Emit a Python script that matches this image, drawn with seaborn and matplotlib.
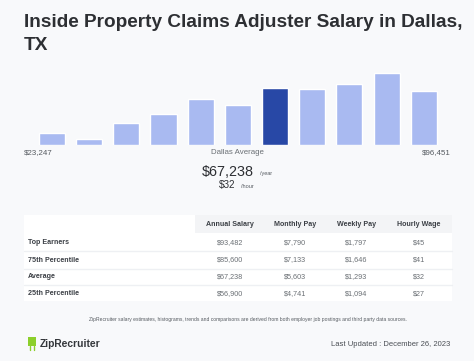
import matplotlib
matplotlib.use("Agg")
import matplotlib.pyplot as plt
import seaborn as sns
import pandas as pd
from matplotlib.patches import Rectangle

# histogram bars (relative heights)
bins = list(range(11))
heights = [12, 6.3, 22, 31, 45.7, 40, 57, 55.7, 61.3, 71.7, 54.3]
avg_bin = 6

title_lines = ["Inside Property Claims Adjuster Salary in Dallas,", "TX"]
low_label = "$23,247"
high_label = "$96,451"
avg_year = "$67,238"
avg_hour = "$32"

columns = ["Annual Salary", "Monthly Pay", "Weekly Pay", "Hourly Wage"]
rows = ["Top Earners", "75th Percentile", "Average", "25th Percentile"]
table_vals = [
    ["$93,482", "$7,790", "$1,797", "$45"],
    ["$85,600", "$7,133", "$1,646", "$41"],
    ["$67,238", "$5,603", "$1,293", "$32"],
    ["$56,900", "$4,741", "$1,094", "$27"],
]
note = ("ZipRecruiter salary estimates, histograms, trends and comparisons are derived "
        "from both employer job postings and third party data sources.")
updated = "Last Updated : December 26, 2023"

sns.set_theme(style="white")
plt.rcParams['font.family'] = ['Liberation Sans', 'DejaVu Sans']

W, H = 474, 361
bg = "#f8f9fb"
fig = plt.figure(figsize=(W / 100, H / 100), dpi=100, facecolor=bg)

def fx(px):
    return px / W

def fy(py):
    return 1 - py / H

dark = "#2d2f33"
fig.text(fx(24), fy(27), title_lines[0], fontsize=13.65, fontweight="bold", color=dark,
         va="baseline", ha="left")
fig.text(fx(24), fy(50), title_lines[1], fontsize=13.65, fontweight="bold", color=dark,
         va="baseline", ha="left")

# bar chart
ax = fig.add_axes([fx(33.4), fy(145), fx(442.3 - 33.4), 80 / H])
ax.set_facecolor("none")
df = pd.DataFrame({"bin": bins, "h": heights})
colors = ["#2848a6" if b == avg_bin else "#a9baf1" for b in bins]
sns.barplot(data=df, x="bin", y="h", hue="bin", palette=colors, width=0.7,
            legend=False, ax=ax, saturation=1)
ax.set_xlim(-0.5, 10.5)
ax.set_ylim(0, 80)
ax.axis("off")

grey = "#555a60"
fig.text(fx(24), fy(153), low_label, fontsize=5.7, color=grey, ha="left", va="center")
fig.text(fx(237), fy(153), "Dallas Average", fontsize=5.7, color="#6b7075", ha="center", va="center")
fig.text(fx(451), fy(153), high_label, fontsize=5.7, color=grey, ha="right", va="center")

fig.text(fx(253.5), fy(171.7), avg_year, fontsize=10.4, color=dark, ha="right", va="center")
fig.text(fx(260.5), fy(173), "/year", fontsize=4.0, color=grey, ha="left", va="center")
fig.text(fx(235.2), fy(185.2), avg_hour, fontsize=7.1, color=dark, ha="right", va="center")
fig.text(fx(240.8), fy(186.2), "/hour", fontsize=4.0, color=grey, ha="left", va="center")

# table
x0, x1, xsplit = 24, 452, 195
fig.patches.append(Rectangle((fx(x0), fy(301)), fx(x1 - x0), (301 - 215) / H,
                             transform=fig.transFigure, facecolor="white", edgecolor="none"))
fig.patches.append(Rectangle((fx(xsplit), fy(233)), fx(x1 - xsplit), 18 / H,
                             transform=fig.transFigure, facecolor="#f3f4f6", edgecolor="none"))
col_x = [230, 295.5, 356.5, 419]
for cx, c in zip(col_x, columns):
    fig.text(fx(cx), fy(224.5), c, fontsize=5.1, fontweight="bold", color="#3c4046",
             ha="center", va="center")
row_y = [242.7, 260, 277, 293.7]
for i, (ry, r) in enumerate(zip(row_y, rows)):
    fig.text(fx(28), fy(ry), r, fontsize=5.1, fontweight="bold", color="#3c4046",
             ha="left", va="center")
    for cx, v in zip(col_x, table_vals[i]):
        fig.text(fx(cx), fy(ry), v, fontsize=5.2, color="#6b7075", ha="center", va="center")
    if i < len(rows) - 1:
        sep = (ry + row_y[i + 1]) / 2
        fig.lines.append(plt.Line2D([fx(x0), fx(x1)], [fy(sep), fy(sep)], transform=fig.transFigure,
                                    color="#eef0f3", lw=1))

fig.text(fx(248), fy(319.5), note, fontsize=3.65, color="#555a60", ha="center", va="center")

# logo
fig.patches.append(Rectangle((fx(28), fy(346)), fx(8), 9 / H, transform=fig.transFigure,
                             facecolor="#8ccf2b", edgecolor="none"))
fig.lines.append(plt.Line2D([fx(30), fx(30)], [fy(346), fy(350)], transform=fig.transFigure,
                            color="#8ccf2b", lw=1))
fig.lines.append(plt.Line2D([fx(34), fx(34)], [fy(346), fy(350)], transform=fig.transFigure,
                            color="#8ccf2b", lw=1))
fig.text(fx(40), fy(344), "ZipRecruiter", fontsize=7.4, fontweight="bold", color="#33363a",
         ha="left", va="center")
fig.text(fx(450), fy(344), updated, fontsize=5.5, color="#4a4e54", ha="right", va="center")

fig.savefig("out.png", dpi=100, facecolor=bg)
